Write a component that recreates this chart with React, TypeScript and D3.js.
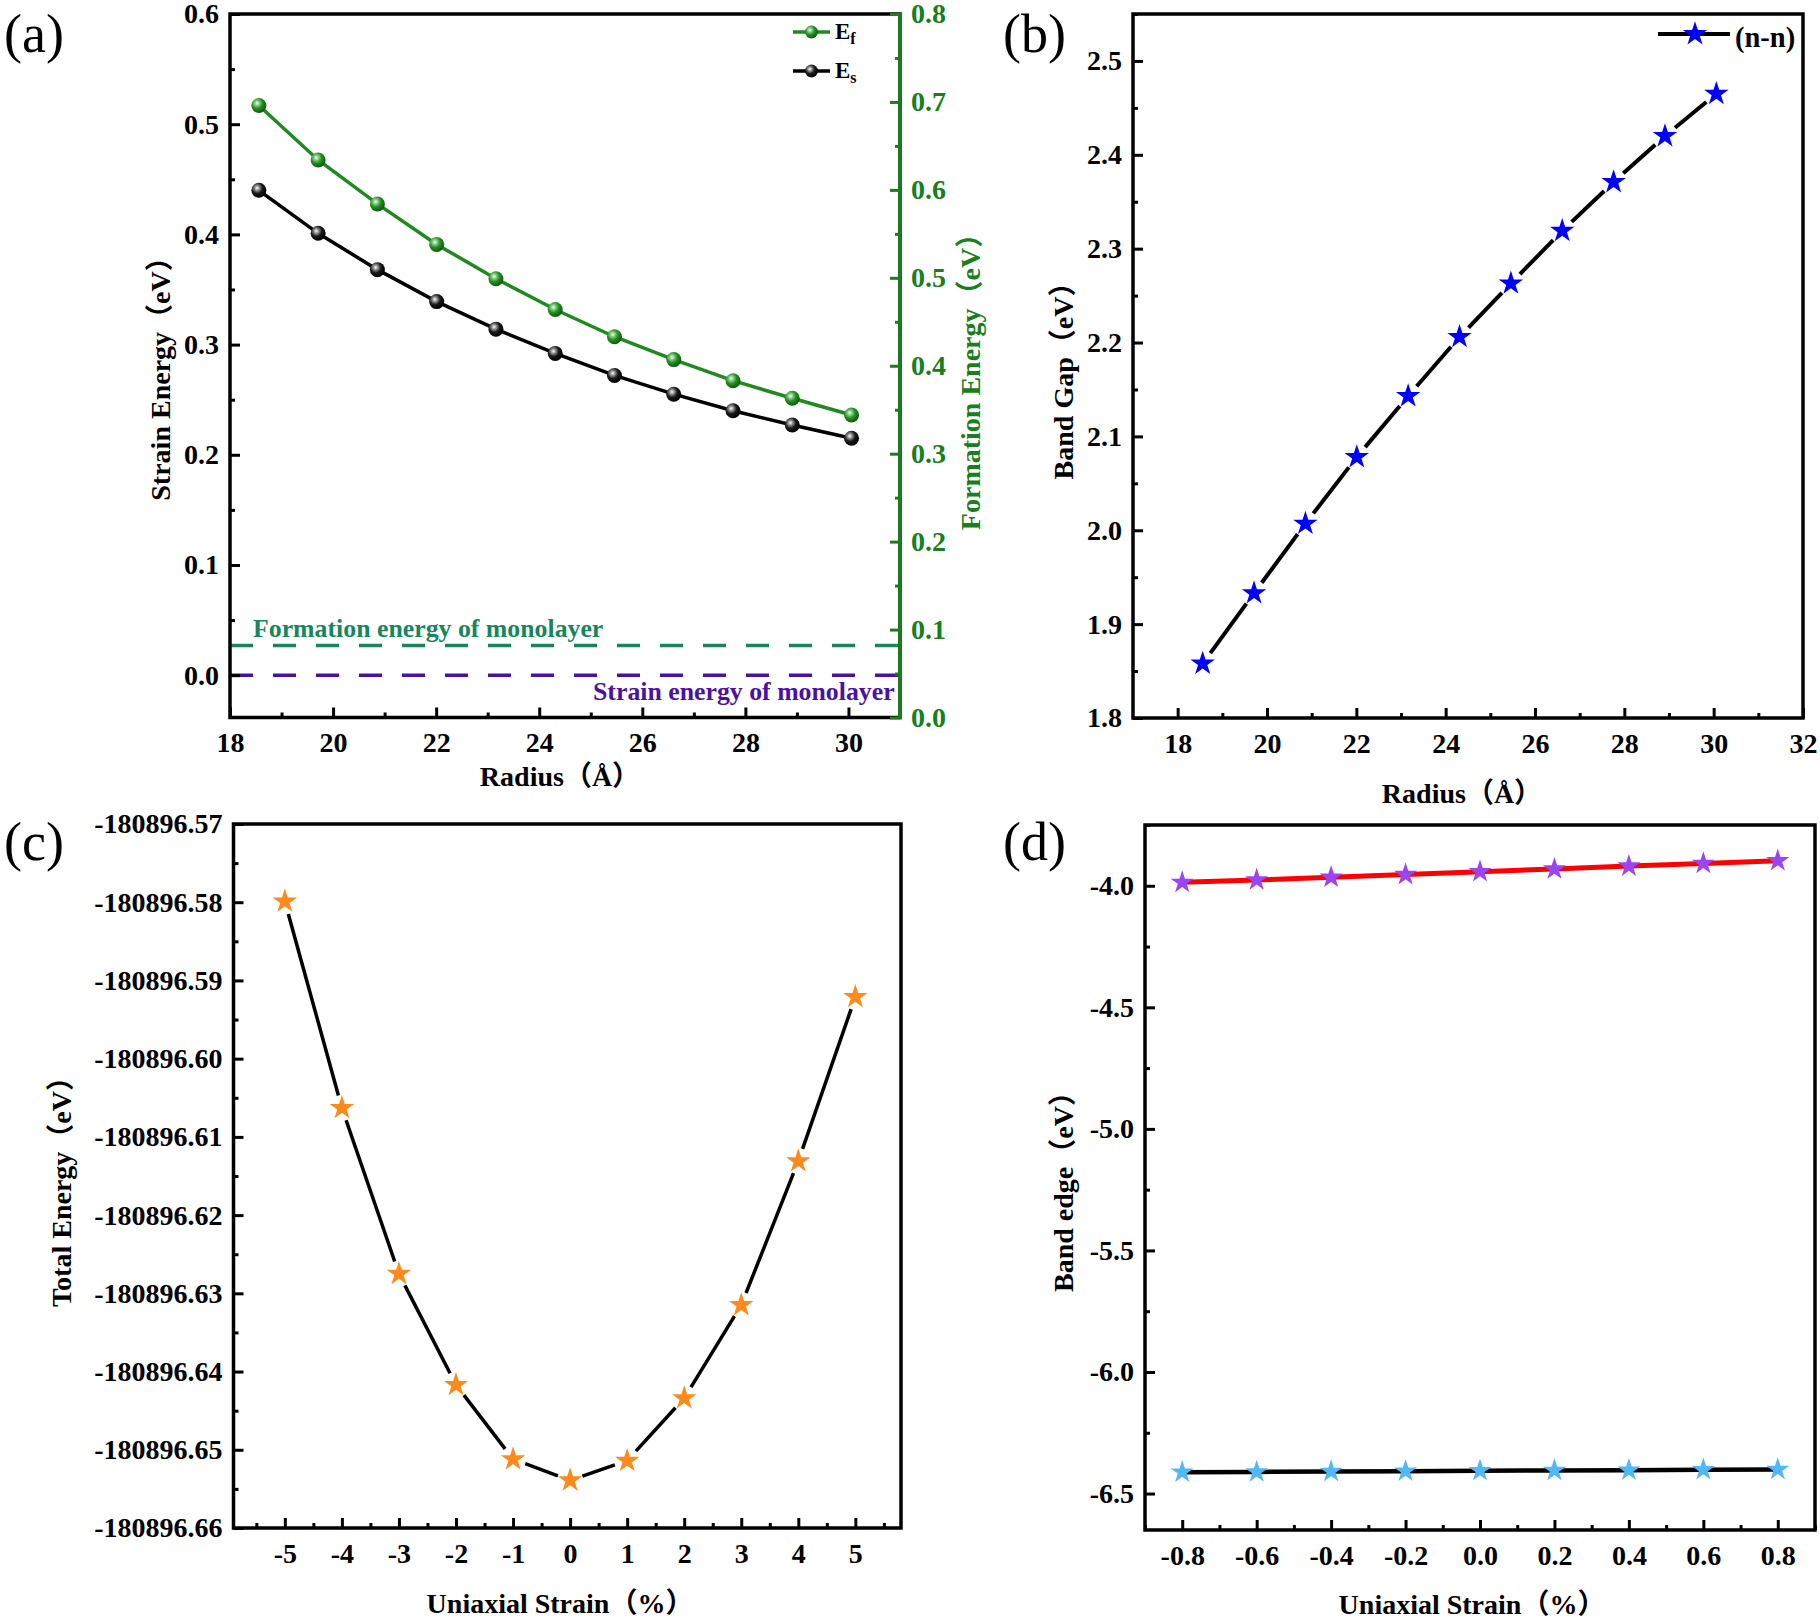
import React, { useEffect, useRef } from 'react'
import * as d3 from 'd3'

const W = 1820
const H = 1621
const FONT = "'Times New Roman', 'Liberation Serif', 'Noto Sans CJK SC', serif"

// (a) strain / formation energy of the tubes vs radius
const radius = [18.56, 19.71, 20.86, 22.01, 23.16, 24.31, 25.46, 26.61, 27.76, 28.91, 30.06]
const strainEnergy = [0.44, 0.401, 0.368, 0.339, 0.314, 0.292, 0.272, 0.255, 0.24, 0.227, 0.215]
const formationEnergy = [0.696, 0.634, 0.584, 0.538, 0.499, 0.464, 0.433, 0.407, 0.383, 0.363, 0.344]
const monolayerFormation = 0.082
const monolayerStrain = 0.0

// (b) band gap vs radius
const bandGap = [1.858, 1.933, 2.007, 2.078, 2.143, 2.206, 2.263, 2.319, 2.371, 2.42, 2.465]

// (c) total energy vs uniaxial strain
const strainPct = [-5, -4, -3, -2, -1, 0, 1, 2, 3, 4, 5]
const totalEnergy = [
  -180896.5799, -180896.6063, -180896.6275, -180896.6417, -180896.6512, -180896.6539,
  -180896.6514, -180896.6434, -180896.6315, -180896.6131, -180896.5921,
]

// (d) band edges vs small strain
const strainSmall = [-0.8, -0.6, -0.4, -0.2, 0, 0.2, 0.4, 0.6, 0.8]
const cbEdge = [-3.986, -3.976, -3.965, -3.954, -3.942, -3.931, -3.919, -3.908, -3.897]
const vbEdge = [-6.412, -6.411, -6.409, -6.408, -6.406, -6.405, -6.404, -6.402, -6.401]

// tick values
const radiusTicksA = [18, 20, 22, 24, 26, 28, 30]
const radiusMinorA = [19, 21, 23, 25, 27, 29]
const strainTicksA = [0, 0.1, 0.2, 0.3, 0.4, 0.5, 0.6]
const strainMinorA = [0.05, 0.15, 0.25, 0.35, 0.45, 0.55]
const formTicksA = [0, 0.1, 0.2, 0.3, 0.4, 0.5, 0.6, 0.7, 0.8]
const formMinorA = [0.05, 0.15, 0.25, 0.35, 0.45, 0.55, 0.65, 0.75]
const radiusTicksB = [18, 20, 22, 24, 26, 28, 30, 32]
const radiusMinorB = [19, 21, 23, 25, 27, 29, 31]
const gapTicks = [1.8, 1.9, 2.0, 2.1, 2.2, 2.3, 2.4, 2.5]
const gapMinor = [1.85, 1.95, 2.05, 2.15, 2.25, 2.35, 2.45, 2.55]
const strainMinorC = [-5.5, -4.5, -3.5, -2.5, -1.5, -0.5, 0.5, 1.5, 2.5, 3.5, 4.5, 5.5]
const energyTicks = [
  -180896.66, -180896.65, -180896.64, -180896.63, -180896.62,
  -180896.61, -180896.6, -180896.59, -180896.58, -180896.57,
]
const energyMinor = [
  -180896.655, -180896.645, -180896.635, -180896.625, -180896.615,
  -180896.605, -180896.595, -180896.585, -180896.575,
]
const strainMinorD = [-0.9, -0.7, -0.5, -0.3, -0.1, 0.1, 0.3, 0.5, 0.7, 0.9]
const edgeTicks = [-6.5, -6.0, -5.5, -5.0, -4.5, -4.0]
const edgeMinor = [-6.25, -5.75, -5.25, -4.75, -4.25, -3.75]

const GREEN = '#1f8a1f'
const GREEN_AXIS = '#17801a'
const TEAL = '#16875c'
const PURPLE = '#4a12a2'

// plain hyphen for negatives, like the original plotting software
const locale = d3.formatLocale({ decimal: '.', thousands: ',', grouping: [3], currency: ['', ''], minus: '-' })
const fmtInt = locale.format('d')
const fmt1 = locale.format('.1f')
const fmt2 = locale.format('.2f')

type Lin = d3.ScaleLinear<number, number>
type G = d3.Selection<SVGGElement, unknown, null, undefined>

function styleAxis(s: G, color: string, size = 28) {
  s.select('.domain').remove()
  s.selectAll('line').attr('stroke', color).attr('stroke-width', 3)
  s.selectAll('text')
    .attr('fill', color)
    .attr('font-family', FONT)
    .attr('font-weight', 'bold')
    .attr('font-size', size)
}

function drawAxes(
  g: G, x: Lin, y: Lin,
  cfg: { xMajor: number[]; xMinor: number[]; yMajor: number[]; yMinor: number[]; xFmt: (d: any) => string; yFmt: (d: any) => string },
) {
  const bottom = y.range()[0]
  const left = x.range()[0]
  g.append('g').attr('transform', `translate(0,${bottom})`)
    .call(d3.axisBottom(x).tickValues(cfg.xMinor).tickSize(-5).tickFormat(() => ''))
    .call(s => styleAxis(s, '#000'))
  g.append('g').attr('transform', `translate(0,${bottom})`)
    .call(d3.axisBottom(x).tickValues(cfg.xMajor).tickSize(-10).tickPadding(15).tickFormat(cfg.xFmt))
    .call(s => styleAxis(s, '#000'))
  g.append('g').attr('transform', `translate(${left},0)`)
    .call(d3.axisLeft(y).tickValues(cfg.yMinor).tickSize(-5).tickFormat(() => ''))
    .call(s => styleAxis(s, '#000'))
  g.append('g').attr('transform', `translate(${left},0)`)
    .call(d3.axisLeft(y).tickValues(cfg.yMajor).tickSize(-10).tickPadding(11).tickFormat(cfg.yFmt))
    .call(s => styleAxis(s, '#000'))
}

function frame(g: G, x: Lin, y: Lin) {
  const [x0, x1] = x.range()
  const [y0, y1] = y.range()
  g.append('rect')
    .attr('x', x0).attr('y', y1)
    .attr('width', x1 - x0).attr('height', y0 - y1)
    .attr('fill', 'none').attr('stroke', '#000').attr('stroke-width', 3.5)
}

function label(g: G, text: string, x: number, y: number, opts: { rotate?: boolean; color?: string; size?: number; anchor?: string; weight?: string } = {}) {
  const t = g.append('text')
    .attr('font-family', FONT)
    .attr('font-weight', opts.weight ?? 'bold')
    .attr('font-size', opts.size ?? 28)
    .attr('fill', opts.color ?? '#000')
    .attr('text-anchor', opts.anchor ?? 'middle')
    .text(text)
  if (opts.rotate) {
    t.attr('transform', `translate(${x},${y}) rotate(-90)`).attr('dy', '0.35em')
  } else {
    t.attr('x', x).attr('y', y)
  }
  return t
}

// line segments that stop short of each marker
function gapped(pts: [number, number][], gap: number) {
  return d3.pairs(pts).map(([a, b]) => {
    const dx = b[0] - a[0]
    const dy = b[1] - a[1]
    const len = Math.hypot(dx, dy)
    const ux = dx / len
    const uy = dy / len
    return [a[0] + ux * gap, a[1] + uy * gap, b[0] - ux * gap, b[1] - uy * gap]
  })
}

export default function App() {
  const svgRef = useRef<SVGSVGElement>(null)

  useEffect(() => {
    const svg = d3.select(svgRef.current)
    svg.selectAll('*').remove()
    const root = svg.append('g') as unknown as G

    // shaded ball markers
    const defs = svg.append('defs')
    const ball = (id: string, stops: [number, string][]) => {
      const rg = defs.append('radialGradient').attr('id', id).attr('cx', '38%').attr('cy', '35%').attr('r', '65%')
      stops.forEach(([o, c]) => rg.append('stop').attr('offset', `${o}%`).attr('stop-color', c))
    }
    ball('ballGreen', [[0, '#f2fff2'], [22, '#8fd08f'], [55, '#23901f'], [100, '#0f5a0f']])
    ball('ballBlack', [[0, '#ffffff'], [22, '#9a9a9a'], [55, '#1a1a1a'], [100, '#000000']])

    const star = (size: number) => d3.symbol().type(d3.symbolStar).size(size)()

    // ---------- (a) ----------
    const ga = root.append('g')
    const xa = d3.scaleLinear().domain([18, 31]).range([230, 900])
    const yaL = d3.scaleLinear().domain([-0.0384, 0.6]).range([717.5, 14])
    const yaR = d3.scaleLinear().domain([0, 0.8]).range([717.5, 14])

    // monolayer reference lines
    ga.append('line')
      .attr('x1', xa.range()[0]).attr('x2', xa.range()[1])
      .attr('y1', yaR(monolayerFormation)).attr('y2', yaR(monolayerFormation))
      .attr('stroke', TEAL).attr('stroke-width', 3.5).attr('stroke-dasharray', '23 20')
    ga.append('line')
      .attr('x1', xa.range()[0]).attr('x2', xa.range()[1])
      .attr('y1', yaL(monolayerStrain)).attr('y2', yaL(monolayerStrain))
      .attr('stroke', PURPLE).attr('stroke-width', 3.5).attr('stroke-dasharray', '23 20')
    label(ga, 'Formation energy of monolayer', 253, 637, { color: TEAL, size: 25.8, anchor: 'start' })
    label(ga, 'Strain energy of monolayer', 593, 700, { color: PURPLE, size: 25.8, anchor: 'start' })

    frame(ga, xa, yaL)
    drawAxes(ga, xa, yaL, {
      xMajor: radiusTicksA, xMinor: radiusMinorA, yMajor: strainTicksA, yMinor: strainMinorA,
      xFmt: fmtInt, yFmt: fmt1,
    })
    // right (formation energy) axis
    ga.append('line')
      .attr('x1', 900).attr('x2', 900).attr('y1', 12.5).attr('y2', 719.2)
      .attr('stroke', GREEN_AXIS).attr('stroke-width', 3.5)
    ga.append('g').attr('transform', 'translate(900,0)')
      .call(d3.axisRight(yaR).tickValues(formMinorA).tickSize(-5).tickFormat(() => ''))
      .call(s => styleAxis(s as unknown as G, GREEN_AXIS))
    ga.append('g').attr('transform', 'translate(900,0)')
      .call(d3.axisRight(yaR).tickValues(formTicksA).tickSize(-10).tickPadding(11).tickFormat(fmt1))
      .call(s => styleAxis(s as unknown as G, GREEN_AXIS))

    const lineEs = d3.line<number>().x((_, i) => xa(radius[i])).y(d => yaL(d))
    const lineEf = d3.line<number>().x((_, i) => xa(radius[i])).y(d => yaR(d))
    ga.append('path').attr('d', lineEf(formationEnergy)).attr('fill', 'none').attr('stroke', GREEN).attr('stroke-width', 3.5)
    ga.append('path').attr('d', lineEs(strainEnergy)).attr('fill', 'none').attr('stroke', '#000').attr('stroke-width', 3.5)
    ga.selectAll('.ef').data(formationEnergy).join('circle')
      .attr('cx', (_, i) => xa(radius[i])).attr('cy', d => yaR(d)).attr('r', 7.5)
      .attr('fill', 'url(#ballGreen)')
    ga.selectAll('.es').data(strainEnergy).join('circle')
      .attr('cx', (_, i) => xa(radius[i])).attr('cy', d => yaL(d)).attr('r', 7.5)
      .attr('fill', 'url(#ballBlack)')

    // legend
    const legA = [
      { color: GREEN, fill: 'url(#ballGreen)', sub: 'f', y: 32 },
      { color: '#000', fill: 'url(#ballBlack)', sub: 's', y: 71 },
    ]
    legA.forEach(it => {
      ga.append('line').attr('x1', 793).attr('x2', 830).attr('y1', it.y).attr('y2', it.y)
        .attr('stroke', it.color).attr('stroke-width', 3.5)
      ga.append('circle').attr('cx', 811.5).attr('cy', it.y).attr('r', 6.5).attr('fill', it.fill)
      const t = label(ga, 'E', 835, it.y + 7, { size: 23, anchor: 'start' })
      t.append('tspan').attr('dy', 5).attr('font-size', 16).text(it.sub)
    })

    label(ga, 'Radius（Å）', 560, 786)
    label(ga, 'Strain Energy（eV）', 160, 372, { rotate: true })
    label(ga, 'Formation Energy（eV）', 970, 375, { rotate: true, color: GREEN_AXIS })
    label(ga, '(a)', 4, 52, { size: 54, anchor: 'start', weight: 'normal' })

    // ---------- (b) ----------
    const gb = root.append('g')
    const xb = d3.scaleLinear().domain([17, 32]).range([1133, 1803])
    const yb = d3.scaleLinear().domain([1.8, 2.55]).range([718, 14])
    frame(gb, xb, yb)
    drawAxes(gb, xb, yb, {
      xMajor: radiusTicksB, xMinor: radiusMinorB, yMajor: gapTicks, yMinor: gapMinor,
      xFmt: fmtInt, yFmt: fmt1,
    })
    const ptsB = bandGap.map((d, i) => [xb(radius[i]), yb(d)] as [number, number])
    gb.selectAll('.seg').data(gapped(ptsB, 13)).join('line')
      .attr('x1', d => d[0]).attr('y1', d => d[1]).attr('x2', d => d[2]).attr('y2', d => d[3])
      .attr('stroke', '#000').attr('stroke-width', 4)
    gb.selectAll('.st').data(bandGap).join('path')
      .attr('d', star(185))
      .attr('transform', (d, i) => `translate(${xb(radius[i])},${yb(d)})`)
      .attr('fill', '#0000ff')
    gb.append('line').attr('x1', 1658).attr('x2', 1730).attr('y1', 34).attr('y2', 34)
      .attr('stroke', '#000').attr('stroke-width', 4)
    gb.append('path').attr('d', star(185)).attr('transform', 'translate(1695,34)').attr('fill', '#0000ff')
    label(gb, '(n-n)', 1735, 47, { size: 28.5, anchor: 'start' })
    label(gb, 'Radius（Å）', 1462, 803)
    label(gb, 'Band Gap（eV）', 1063, 374, { rotate: true })
    label(gb, '(b)', 1003, 52, { size: 54, anchor: 'start', weight: 'normal' })

    // ---------- (c) ----------
    const gc = root.append('g')
    const xc = d3.scaleLinear().domain([-5.9, 5.8]).range([233.5, 901])
    const yc = d3.scaleLinear().domain([-180896.66, -180896.57]).range([1528, 824])
    frame(gc, xc, yc)
    drawAxes(gc, xc, yc, {
      xMajor: strainPct, xMinor: strainMinorC, yMajor: energyTicks, yMinor: energyMinor,
      xFmt: fmtInt, yFmt: fmt2,
    })
    const ptsC = totalEnergy.map((d, i) => [xc(strainPct[i]), yc(d)] as [number, number])
    gc.selectAll('.seg').data(gapped(ptsC, 13)).join('line')
      .attr('x1', d => d[0]).attr('y1', d => d[1]).attr('x2', d => d[2]).attr('y2', d => d[3])
      .attr('stroke', '#000').attr('stroke-width', 3.5)
    gc.selectAll('.st').data(totalEnergy).join('path')
      .attr('d', star(185))
      .attr('transform', (d, i) => `translate(${xc(strainPct[i])},${yc(d)})`)
      .attr('fill', '#ff8a1c')
    label(gc, 'Uniaxial Strain（%）', 560, 1613)
    label(gc, 'Total Energy（eV）', 61, 1185, { rotate: true })
    label(gc, '(c)', 4, 860, { size: 54, anchor: 'start', weight: 'normal' })

    // ---------- (d) ----------
    const gd = root.append('g')
    const xd = d3.scaleLinear().domain([-0.9, 0.9]).range([1145, 1815])
    const yd = d3.scaleLinear().domain([-6.65, -3.75]).range([1530, 825])
    frame(gd, xd, yd)
    drawAxes(gd, xd, yd, {
      xMajor: strainSmall, xMinor: strainMinorD, yMajor: edgeTicks, yMinor: edgeMinor,
      xFmt: fmt1, yFmt: fmt1,
    })
    const lineD = d3.line<number>().x((_, i) => xd(strainSmall[i])).y(d => yd(d))
    gd.append('path').attr('d', lineD(cbEdge)).attr('fill', 'none').attr('stroke', '#ff0000').attr('stroke-width', 5)
    gd.append('path').attr('d', lineD(vbEdge)).attr('fill', 'none').attr('stroke', '#000').attr('stroke-width', 4.5)
    gd.selectAll('.cb').data(cbEdge).join('path')
      .attr('d', star(165))
      .attr('transform', (d, i) => `translate(${xd(strainSmall[i])},${yd(d)})`)
      .attr('fill', '#9b45f2')
    gd.selectAll('.vb').data(vbEdge).join('path')
      .attr('d', star(165))
      .attr('transform', (d, i) => `translate(${xd(strainSmall[i])},${yd(d)})`)
      .attr('fill', '#4fb8f5')
    label(gd, 'Uniaxial Strain（%）', 1472, 1614)
    label(gd, 'Band edge（eV）', 1063, 1185, { rotate: true })
    label(gd, '(d)', 1003, 860, { size: 54, anchor: 'start', weight: 'normal' })
  }, [])

  return (
    <svg
      ref={svgRef}
      width={W}
      height={H}
      style={{ position: 'absolute', left: 0, top: 0, background: '#fff' }}
    />
  )
}
